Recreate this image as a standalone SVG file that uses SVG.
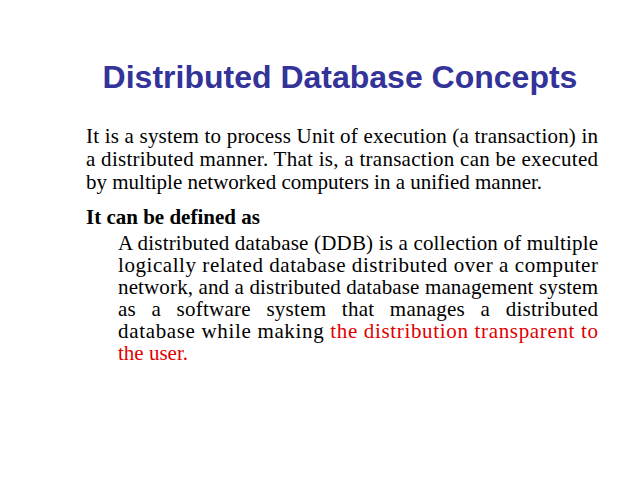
<svg xmlns="http://www.w3.org/2000/svg" width="638" height="479" viewBox="0 0 638 479">
<style>
.t{font-family:"Liberation Serif",serif;font-size:21px;fill:#000}
.r{fill:#e00000}
.h{font-family:"Liberation Sans",sans-serif;font-size:32px;font-weight:bold;fill:#333399}
</style>
<rect width="638" height="479" fill="#fff"/>
<g id="title"><text class="h" x="340" y="88" text-anchor="middle">Distributed Database Concepts</text></g>
<g id="para1">
<text class="t" x="86" y="143" textLength="512" lengthAdjust="spacing">It is a system to process Unit of execution (a transaction) in</text>
<text class="t" x="86" y="166" textLength="512" lengthAdjust="spacing">a distributed manner.  That is, a transaction can be executed</text>
<text class="t" x="86" y="189">by multiple networked computers in a unified manner.</text>
</g>
<g id="para2">
<text class="t" x="86" y="224" font-weight="bold">It can be defined as</text>
<text class="t" x="118" y="250" textLength="480" lengthAdjust="spacing">A distributed database (DDB) is a collection of multiple</text>
<text class="t" x="118" y="272" textLength="480" lengthAdjust="spacing">logically related database distributed over a computer</text>
<text class="t" x="118" y="294" textLength="480" lengthAdjust="spacing">network, and a distributed database management system</text>
<text class="t" x="118" y="316" textLength="480" lengthAdjust="spacing" word-spacing="10">as a software system that manages a distributed</text>
<text class="t" x="118" y="338" textLength="480" lengthAdjust="spacing">database while making <tspan class="r">the distribution transparent to</tspan></text>
<text class="t r" x="118" y="360">the user.</text>
</g>
</svg>
